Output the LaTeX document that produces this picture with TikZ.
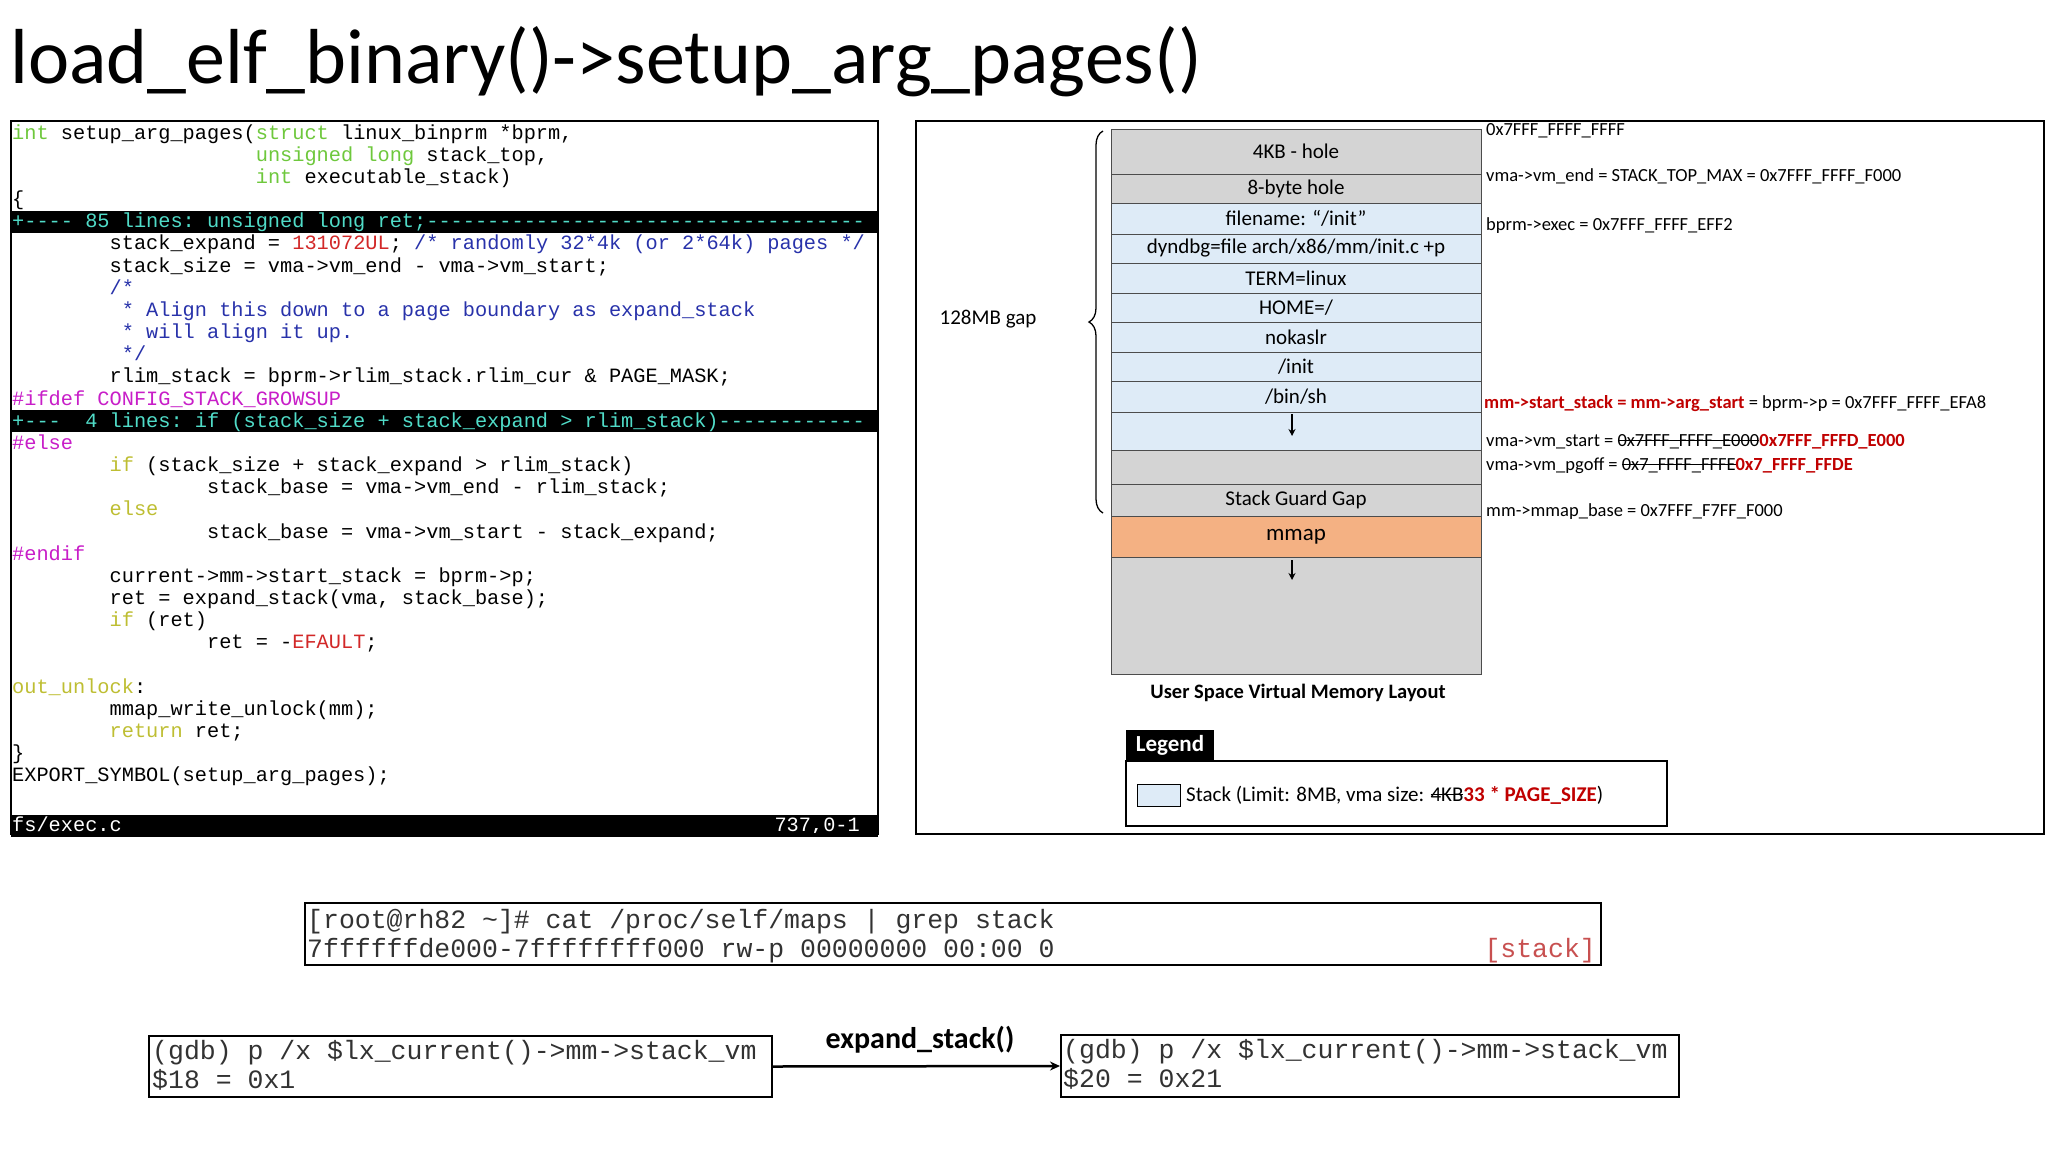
\documentclass[tikz,border=0pt]{standalone}
\usepackage{fontspec}
\setmainfont{Carlito}
\setmonofont{Liberation Mono}
\usetikzlibrary{decorations.pathreplacing,arrows.meta}
\definecolor{kwg}{RGB}{110,200,60}
\definecolor{cty}{RGB}{190,190,50}
\definecolor{cmb}{RGB}{40,50,170}
\definecolor{ppm}{RGB}{200,30,200}
\definecolor{nmr}{RGB}{210,40,40}
\definecolor{fold}{RGB}{80,220,200}
\definecolor{memgray}{RGB}{212,212,212}
\definecolor{stackblue}{RGB}{222,235,247}
\definecolor{mmaporange}{RGB}{244,177,131}
\definecolor{darkred}{RGB}{192,0,0}
\definecolor{termred}{RGB}{200,80,80}
\definecolor{termtxt}{RGB}{50,50,50}
\newcommand\kw[1]{\textcolor{kwg}{#1}}
\newcommand\ct[1]{\textcolor{cty}{#1}}
\newcommand\cmt[1]{\textcolor{cmb}{#1}}
\newcommand\pp[1]{\textcolor{ppm}{#1}}
\newcommand\nm[1]{\textcolor{nmr}{#1}}
\newcommand\strk[1]{\setbox0\hbox{#1}\rlap{\rule[0.3em]{\wd0}{1pt}}\box0}
\newcommand\ind[1]{\setbox0\hbox{0}\hspace*{#1\wd0}}
\newcommand\codefont{\ttfamily\fontsize{20.3}{22}\selectfont}
\newcommand\cl[2]{\node[code] (c#1) at (12,{139+22.17*#1}) {#2};}
\newcommand\fb[1]{\fill[black] (11,{139+22.17*#1-17}) rectangle (878,{139+22.17*#1+5});}
\tikzset{
  code/.style={anchor=base west,inner sep=0,font=\codefont},
  mrow/.style={draw=black!70,line width=1pt,minimum width=370pt,inner sep=0,font=\fontsize{21}{24}\selectfont},
  lab/.style={anchor=west,inner sep=0,font=\fontsize{18.5}{21}\selectfont},
  term/.style={anchor=base west,inner sep=0,text=termtxt,font=\ttfamily\fontsize{26.5}{30}\selectfont},
  frame/.style={draw=black,line width=2pt}
}
\begin{document}
\begin{tikzpicture}[x=1pt,y=-1pt]
\fill[white] (0,0) rectangle (2048,1152);
\useasboundingbox (0,0) rectangle (2048,1152);
\node[anchor=west,inner sep=0,font=\fontsize{78}{90}\selectfont] (title) at (10,62) {load\_elf\_binary()->setup\_arg\_pages()};
% code panel
\fb{4}\fb{13}\fb{31.25}
\cl{0}{\kw{int} setup\_arg\_pages(\kw{struct} linux\_binprm *bprm,}
\cl{1}{\ind{20}\kw{unsigned long} stack\_top,}
\cl{2}{\ind{20}\kw{int} executable\_stack)}
\cl{3}{\{}
\cl{4}{\textcolor{fold}{+---- 85 lines: unsigned long ret;------------------------------------}}
\cl{5}{\ind{8}stack\_expand = \nm{131072UL}; \cmt{/* randomly 32*4k (or 2*64k) pages */}}
\cl{6}{\ind{8}stack\_size = vma->vm\_end - vma->vm\_start;}
\cl{7}{\ind{8}\cmt{/*}}
\cl{8}{\ind{9}\cmt{* Align this down to a page boundary as expand\_stack}}
\cl{9}{\ind{9}\cmt{* will align it up.}}
\cl{10}{\ind{9}\cmt{*/}}
\cl{11}{\ind{8}rlim\_stack = bprm->rlim\_stack.rlim\_cur \& PAGE\_MASK;}
\cl{12}{\pp{\#ifdef CONFIG\_STACK\_GROWSUP}}
\cl{13}{\textcolor{fold}{+---\ind{2}4 lines: if (stack\_size + stack\_expand > rlim\_stack)------------}}
\cl{14}{\pp{\#else}}
\cl{15}{\ind{8}\ct{if} (stack\_size + stack\_expand > rlim\_stack)}
\cl{16}{\ind{16}stack\_base = vma->vm\_end - rlim\_stack;}
\cl{17}{\ind{8}\ct{else}}
\cl{18}{\ind{16}stack\_base = vma->vm\_start - stack\_expand;}
\cl{19}{\pp{\#endif}}
\cl{20}{\ind{8}current->mm->start\_stack = bprm->p;}
\cl{21}{\ind{8}ret = expand\_stack(vma, stack\_base);}
\cl{22}{\ind{8}\ct{if} (ret)}
\cl{23}{\ind{16}ret = -\nm{EFAULT};}
\cl{25}{\ct{out\_unlock}:}
\cl{26}{\ind{8}mmap\_write\_unlock(mm);}
\cl{27}{\ind{8}\ct{return} ret;}
\cl{28}{\}}
\cl{29}{EXPORT\_SYMBOL(setup\_arg\_pages);}
\node[code,text=white] (st1) at (12,{139+22.17*31.25}) {fs/exec.c};
\node[code,text=white,anchor=base east] (st2) at (860,{139+22.17*31.25}) {737,0-1};
\draw[frame] (11,121) rectangle (878,834);
% right panel
\draw[frame] (916,121) rectangle (2044,834);
\node[mrow,fill=memgray,minimum height=45pt] (m1) at (1296,151.5) {4KB - hole};
\node[mrow,fill=memgray,minimum height=29pt] (m2) at (1296,188.5) {8-byte hole};
\node[mrow,fill=stackblue,minimum height=31pt] (m3) at (1296,218.5) {filename: “/init”};
\node[mrow,fill=stackblue,minimum height=29pt] (m4) at (1296,248.5) {dyndbg=file arch/x86/mm/init.c +p};
\node[mrow,fill=stackblue,minimum height=30pt] (m5) at (1296,278) {TERM=linux};
\node[mrow,fill=stackblue,minimum height=29pt] (m6) at (1296,307.5) {HOME=/};
\node[mrow,fill=stackblue,minimum height=30pt] (m7) at (1296,337) {nokaslr};
\node[mrow,fill=stackblue,minimum height=29pt] (m8) at (1296,366.5) {/init};
\node[mrow,fill=stackblue,minimum height=31pt] (m9) at (1296,396.5) {/bin/sh};
\node[mrow,fill=stackblue,minimum height=38pt] (m10) at (1296,431) {};
\node[mrow,fill=memgray,minimum height=34pt] (m11) at (1296,467) {};
\node[mrow,fill=memgray,minimum height=32pt] (m12) at (1296,500) {Stack Guard Gap};
\node[mrow,fill=mmaporange,minimum height=41pt,font=\fontsize{23}{26}\selectfont] (m13) at (1296,536.5) {mmap};
\node[mrow,fill=memgray,minimum height=117pt] (m14) at (1296,615.5) {};
\coordinate (a1s) at (1292,414); \coordinate (a1e) at (1292,436);
\coordinate (a2s) at (1292,560); \coordinate (a2e) at (1292,580);
\draw[line width=1.8pt,-{Stealth[length=7pt,width=7pt]}] (a1s) -- (a1e);
\draw[line width=1.8pt,-{Stealth[length=7pt,width=7pt]}] (a2s) -- (a2e);
\coordinate (bb) at (1103,513); \coordinate (bt) at (1103,131);
\draw[line width=1.3pt,decorate,decoration={brace,amplitude=14pt}] (bb) -- (bt);
\node[font=\fontsize{21}{24}\selectfont,inner sep=0] (gap) at (988,319) {128MB gap};
\node[lab] (l1) at (1486,131) {0x7FFF\_FFFF\_FFFF};
\node[lab] (l2) at (1486,176) {vma->vm\_end = STACK\_TOP\_MAX = 0x7FFF\_FFFF\_F000};
\node[lab] (l3) at (1486,226) {bprm->exec = 0x7FFF\_FFFF\_EFF2};
\node[lab] (l4) at (1484,404) {\textcolor{darkred}{\bfseries mm->start\_stack = mm->arg\_start} = bprm->p = 0x7FFF\_FFFF\_EFA8};
\node[lab] (l5) at (1486,442) {vma->vm\_start = \strk{0x7FFF\_FFFF\_E000} \textcolor{darkred}{\bfseries 0x7FFF\_FFFD\_E000}};
\node[lab] (l6) at (1486,466) {vma->vm\_pgoff = \strk{0x7\_FFFF\_FFFE} \textcolor{darkred}{\bfseries 0x7\_FFFF\_FFDE}};
\node[lab] (l7) at (1486,512) {mm->mmap\_base = 0x7FFF\_F7FF\_F000};
\node[font=\bfseries\fontsize{20.5}{24}\selectfont,inner sep=0] (cap) at (1298,693) {User Space Virtual Memory Layout};
% legend
\node[fill=black,text=white,font=\bfseries\fontsize{23}{26}\selectfont,minimum width=88pt,minimum height=31pt,inner sep=0] (legtab) at (1170,745.5) {Legend};
\draw[line width=2.5pt] (1126,761) rectangle (1667,826);
\node[draw=black,line width=1pt,fill=stackblue,minimum width=43pt,minimum height=22pt,inner sep=0] (sw) at (1158.5,795) {};
\node[anchor=west,inner sep=0,font=\fontsize{21}{24}\selectfont] (legtxt) at (1186,795) {Stack (Limit: 8MB, vma size: \strk{4KB} \textcolor{darkred}{\bfseries 33 * PAGE\_SIZE})};
% terminal
\draw[line width=2pt] (305,903) rectangle (1601,965);
\node[term] (t1) at (307,928) {[root@rh82 \textasciitilde]\# cat /proc/self/maps | grep stack};
\node[term] (t2) at (307,957) {7ffffffde000-7ffffffff000 rw-p 00000000 00:00 0};
\node[term,anchor=base east,text=termred] (t3) at (1596,957) {[stack]};
% gdb
\node[draw,line width=2pt,minimum width=623pt,minimum height=61pt,inner sep=0] (g1) at (460.5,1066.5) {};
\node[draw,line width=2pt,minimum width=618pt,minimum height=62pt,inner sep=0] (g2) at (1370,1066) {};
\node[term] (g1a) at (152,1059) {(gdb) p /x \$lx\_current()->mm->stack\_vm};
\node[term] (g1b) at (152,1088) {\$18 = 0x1};
\node[term] (g2a) at (1063,1058) {(gdb) p /x \$lx\_current()->mm->stack\_vm};
\node[term] (g2b) at (1063,1087) {\$20 = 0x21};
\draw[line width=2.5pt,-{Stealth[length=10pt,width=9pt]}] (g1.east) -- (g2.west);
\node[font=\bfseries\fontsize{30}{34}\selectfont,inner sep=0] (ex) at (920,1040) {expand\_stack()};
\end{tikzpicture}
\end{document}
